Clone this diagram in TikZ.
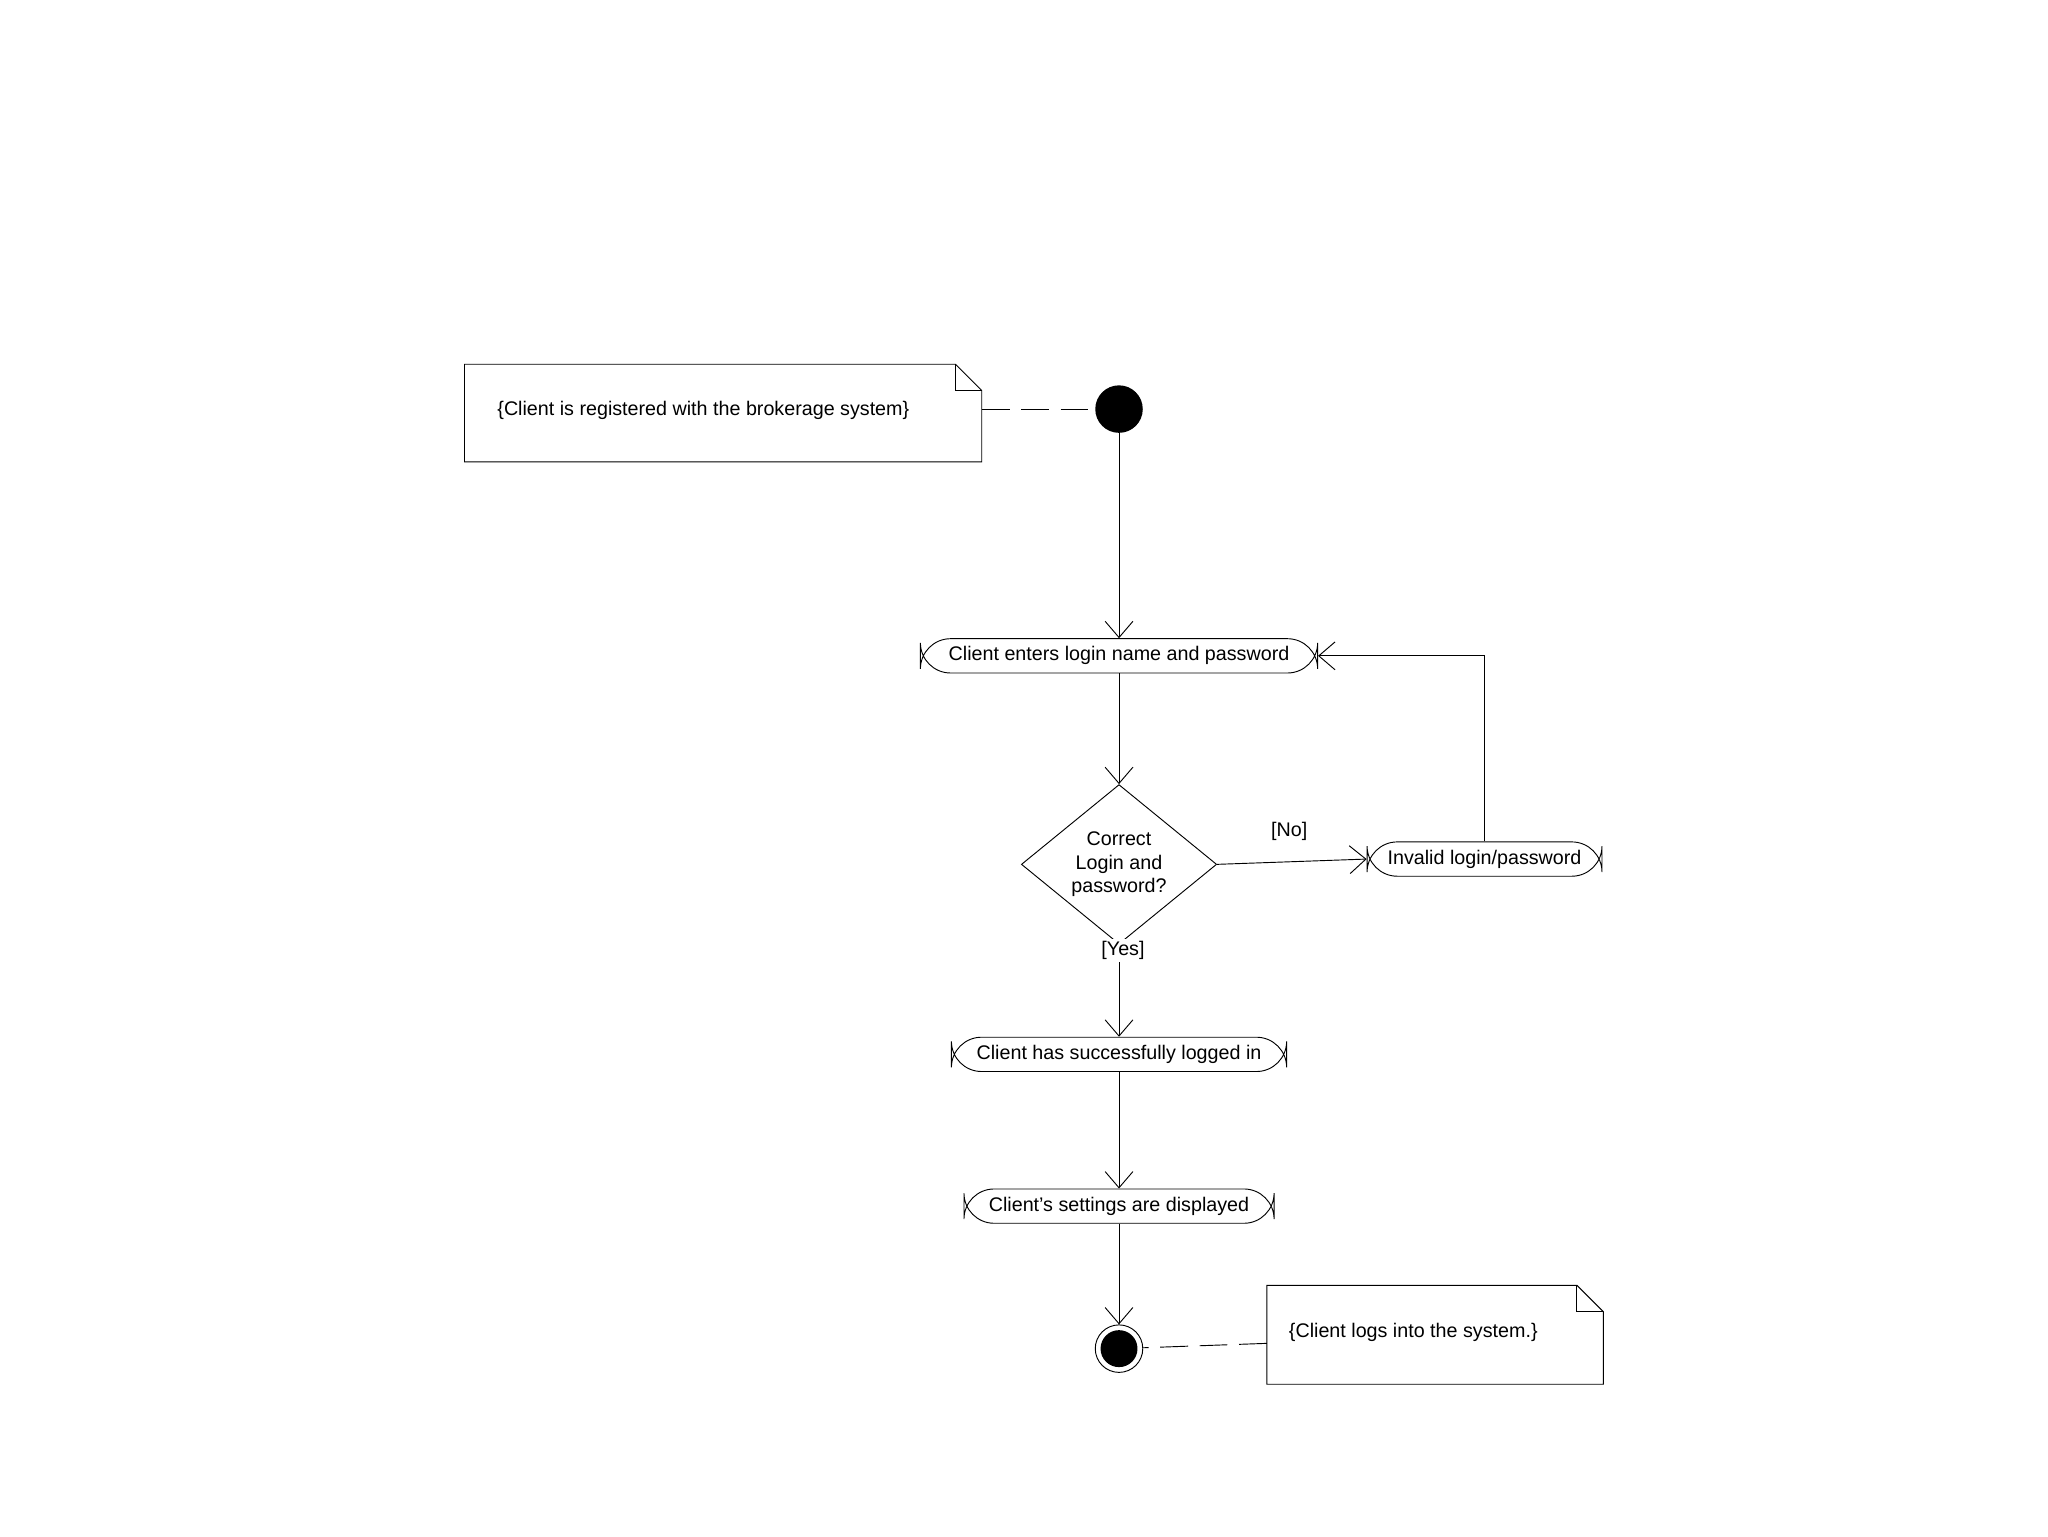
\documentclass[tikz,border=0pt]{standalone}
\usepackage{fontspec}
\setmainfont{Liberation Sans}
\usetikzlibrary{arrows.meta,shapes.geometric}
\begin{document}
\begin{tikzpicture}[x=0.02cm,y=-0.02cm,
  act/.style={draw,rounded corners=13pt,minimum height=26*0.02cm,inner xsep=6pt,font=\fontsize{8.5}{10}\selectfont},
  dec/.style={draw,diamond,minimum width=148*0.02cm,minimum height=104*0.02cm,inner sep=0pt,font=\fontsize{8.5}{10}\selectfont,align=center},
  flow/.style={-{Straight Barb[length=7pt,width=12pt]}},
  lbl/.style={font=\fontsize{8.5}{10}\selectfont},
  notetxt/.style={font=\fontsize{8.5}{10}\selectfont}]
\useasboundingbox (0,0) rectangle (1552,1164);
% note 1
\draw (352,276) -- (724,276) -- (744,296) -- (744,350) -- (352,350) -- cycle;
\draw (724,276) -- (724,296) -- (744,296);
\node[notetxt] (n1) at (533,311) {\{Client is registered with the brokerage system\}};
\coordinate (n1e) at (744,310);
\node[circle,fill=black,minimum size=36*0.02cm,inner sep=0pt] (start) at (848,310) {};
\draw[dashed,dash pattern=on 12pt off 5pt] (n1e) -- (start);
\node[act,minimum width=301*0.02cm] (a1) at (848,497) {Client enters login name and password};
\node[dec] (d) at (848,655) {Correct\\Login and\\password?};
\node[act,minimum width=178*0.02cm] (inv) at (1125,651) {Invalid login/password};
\node[act,minimum width=254*0.02cm] (a2) at (848,799) {Client has successfully logged in};
\node[act,minimum width=235*0.02cm] (a3) at (848,914) {Client's settings are displayed};
\node[circle,draw,minimum size=36*0.02cm,inner sep=0pt] (end) at (848,1022) {};
\node[circle,fill=black,minimum size=28*0.02cm,inner sep=0pt] (endin) at (848,1022) {};
% note 2
\draw (960,974) -- (1195,974) -- (1215,994) -- (1215,1049) -- (960,1049) -- cycle;
\draw (1195,974) -- (1195,994) -- (1215,994);
\node[notetxt] (n2) at (1071,1010) {\{Client logs into the system.\}};
\coordinate (n2w) at (960,1018);
\draw[dashed,dash pattern=on 12pt off 5pt] (n2w) -- (end);
% flows
\draw[flow] (start) -- (a1);
\draw[flow] (a1) -- (d.north);
\draw[flow] (d.east) -- (inv.west);
\draw[flow] (inv.north) |- (a1.east);
\draw[flow] (d.south) -- (a2);
\draw[flow] (a2) -- (a3);
\draw[flow] (a3) -- (end);
\node[lbl] (no) at (977,630) {[No]};
\node[lbl,fill=white,inner sep=1pt] (yes) at (851,720) {[Yes]};
\end{tikzpicture}
\end{document}
